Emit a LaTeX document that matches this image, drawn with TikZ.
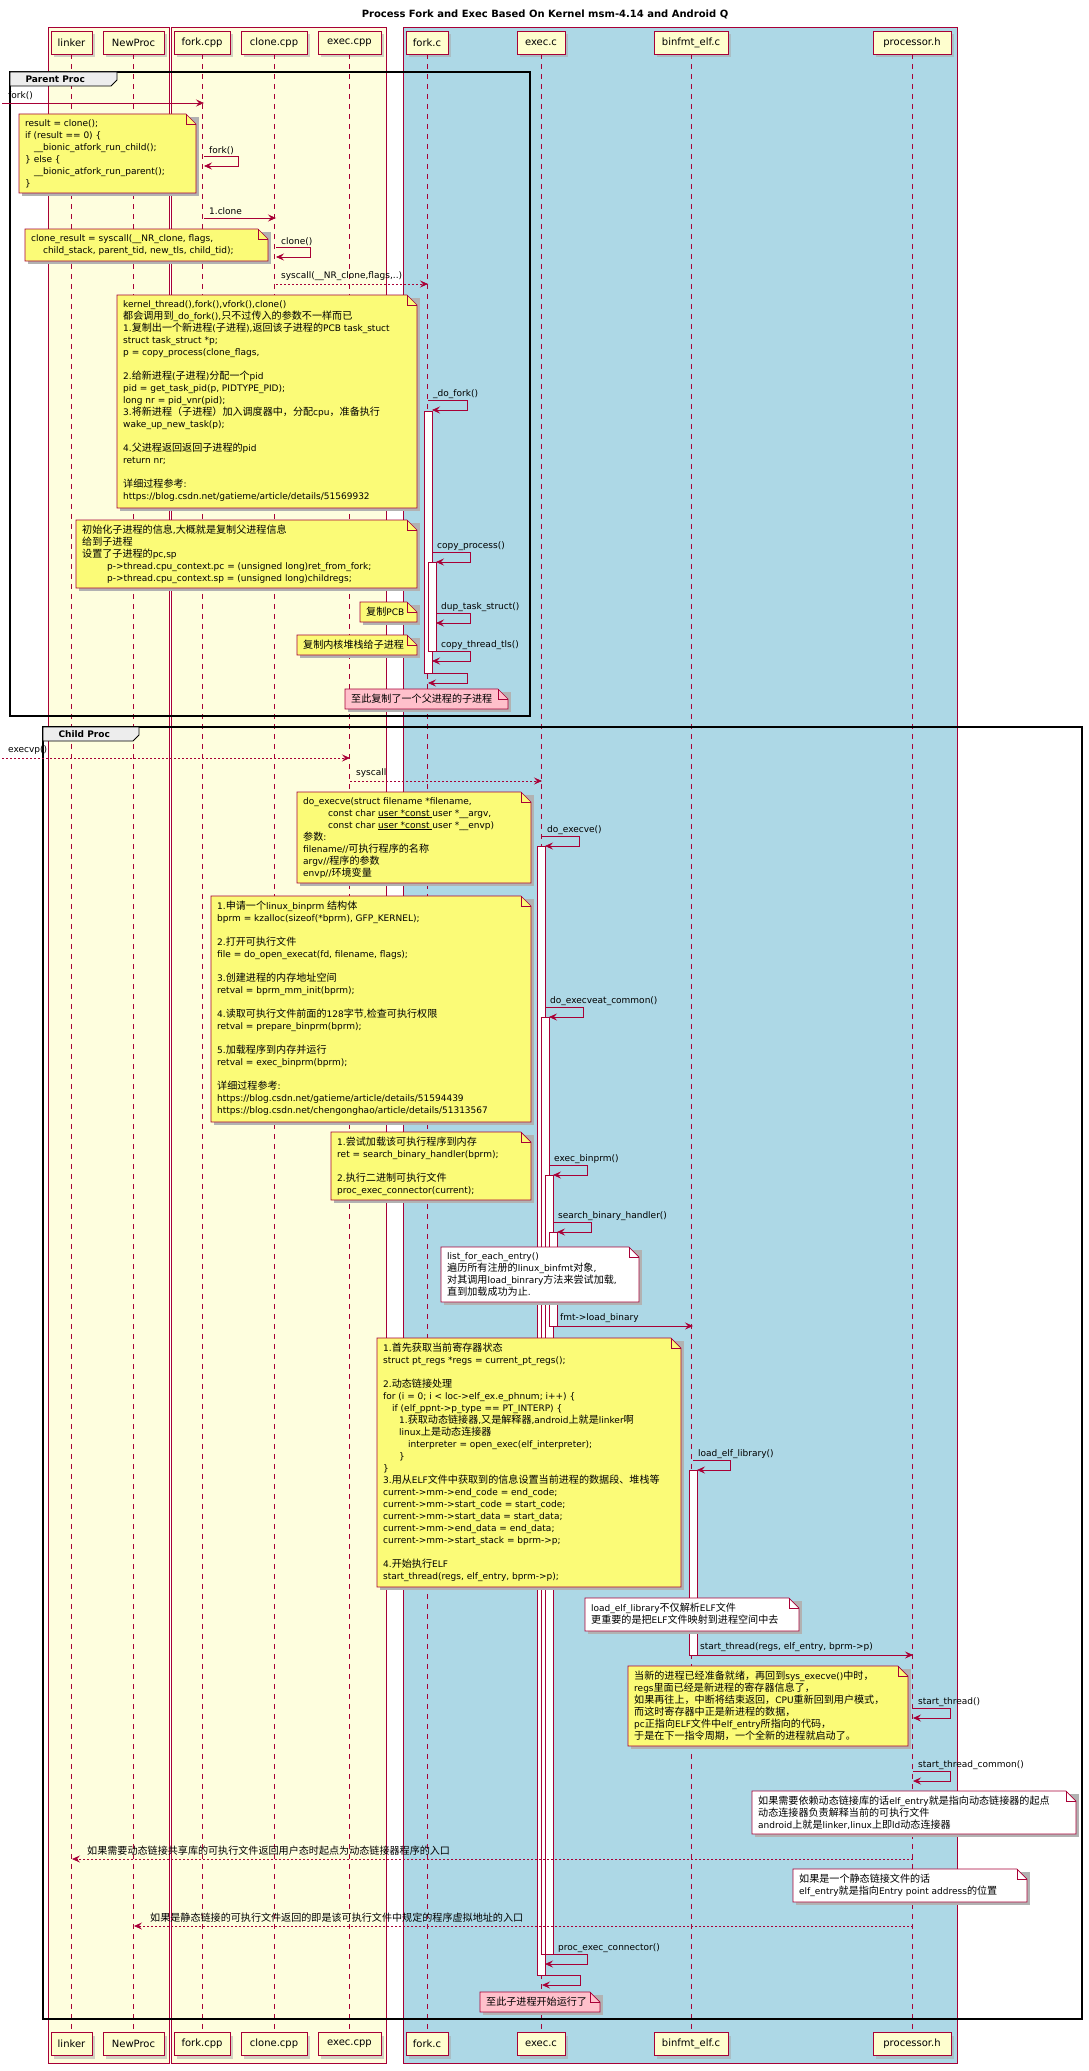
\documentclass[tikz,border=0pt]{standalone}
\usepackage{fontspec}
\setmainfont{DejaVu Sans}
\newfontfamily\cjkf{Noto Sans CJK SC}[Scale=1.12]
\usetikzlibrary{arrows.meta,shadows}
\XeTeXinterchartokenstate=1
\newXeTeXintercharclass\CJKcl
\makeatletter
\def\setcjkrange#1#2{\count@=#1\relax\loop\XeTeXcharclass\count@=\CJKcl\ifnum\count@<#2\advance\count@ by 1\repeat}
\setcjkrange{"4E00}{"9FFF}
\setcjkrange{"3000}{"303F}
\setcjkrange{"FF00}{"FFEF}
\makeatother
\XeTeXinterchartoks 0 \CJKcl = {\cjkf}
\XeTeXinterchartoks 4095 \CJKcl = {\cjkf}
\XeTeXinterchartoks \CJKcl 0 = {\rmfamily}
\XeTeXinterchartoks 4095 0 = {\rmfamily}
\definecolor{crim}{HTML}{A80036}
\definecolor{boxy}{HTML}{FEFEDE}
\definecolor{partf}{HTML}{FEFECE}
\definecolor{notey}{HTML}{FBFB77}
\definecolor{pinkn}{HTML}{FFC0CB}
\definecolor{lblue}{HTML}{ADD8E6}
\tikzset{
  part/.style={draw=crim,fill=partf,line width=0.9pt,minimum height=23pt,inner sep=0pt,
     font=\fontsize{10}{12}\selectfont,drop shadow={shadow xshift=3pt,shadow yshift=-3pt,fill=black!35}},
  life/.style={draw=crim,dash pattern=on 5pt off 5pt,line width=0.6pt},
  act/.style={draw=crim,fill=white,line width=0.7pt},
  msg/.style={draw=crim,line width=0.7pt,-{Stealth[length=8pt,width=7pt,inset=3pt]}},
  dmsg/.style={msg,dash pattern=on 2pt off 2pt},
  lbl/.style={font=\fontsize{9}{11}\selectfont,inner sep=0pt,anchor=south west},
  ntext/.style={font=\fontsize{9}{12}\selectfont,align=left,inner sep=0pt,anchor=north west},
  nbd/.style={draw=crim,line width=0.7pt},
  grpbox/.style={draw=crim,line width=0.8pt},
  frm/.style={draw=black,line width=1.4pt}
}
% name, x1, y1, x2, y2, fill, text
\newcommand\mynote[7]{%
  \fill[black!30] (#2+3,#3+3) rectangle (#4+3,#5+3);
  \draw[nbd,fill=#6] (#2,#3) -- (#4-10,#3) -- (#4,#3+10) -- (#4,#5) -- (#2,#5) -- cycle;
  \draw[nbd] (#4-10,#3) -- (#4-10,#3+10) -- (#4,#3+10);
  \node[ntext] (#1) at (#2+6,#3+5) {#7};}
% self message: x, y, right x, return x, label
\newcommand\selfmsg[5]{%
  \draw[msg] (#1,#2) -- (#3,#2) -- (#3,#2+10) -- (#4,#2+10);
  \node[lbl] at (#1+5,#2-1) {#5};}
\begin{document}
\begin{tikzpicture}[x=1pt,y=-1pt]
\useasboundingbox[fill=white] (0,0) rectangle (1089,2071);
\node[font=\bfseries\fontsize{10}{12}\selectfont] (title) at (545,14) {Process Fork and Exec Based On Kernel msm-4.14 and Android Q};
% group boxes
\draw[grpbox,fill=boxy] (48,27) rectangle (169,2063);
\draw[grpbox,fill=boxy] (171,27) rectangle (386,2063);
\draw[grpbox,fill=lblue] (403,27) rectangle (957,2063);
% participants
\foreach \n/\t/\x/\w in {linker/linker/71.5/41, newproc/NewProc/133.5/61, forkcpp/fork.cpp/202/56,
  clonecpp/clone.cpp/274/66, execcpp/exec.cpp/349.5/63, forkc/fork.c/427/42, execc/exec.c/541/48,
  binfmt/binfmt\_elf.c/691/74, proc/processor.h/912/78}{
  \node[part,minimum width=\w pt] (\n) at (\x,42.5) {\t};
  \node[part,minimum width=\w pt] (\n B) at (\x,2044) {\t};
  \draw[life] (\n.south) -- (\n B.north);
}
% Parent frame
\draw[frm] (10,72) rectangle (530,716);
\draw[black,line width=0.9pt,fill=black!7] (10,72) -- (117,72) -- (117,80) -- (111,86) -- (10,86) -- cycle;
\node[font=\bfseries\fontsize{9}{11}\selectfont,anchor=west] (pp) at (22,79) {Parent Proc};
% fork
\coordinate (lstart) at (2,103);
\draw[msg] (lstart) -- (204,103);
\node[lbl] at (8,100) {fork()};
\mynote{n1}{19}{114}{196}{193}{notey}{result = clone();\\if (result == 0) \{\\\quad\_\_bionic\_atfork\_run\_child();\\\} else \{\\\quad\_\_bionic\_atfork\_run\_parent();\\\}}
\selfmsg{204}{156}{238}{204}{fork()}
\draw[msg] (204,218) -- (276,218);
\node[lbl] at (209,215) {1.clone};
\mynote{n2}{25}{229}{268}{261}{notey}{clone\_result = syscall(\_\_NR\_clone, flags,\\\quad\ child\_stack, parent\_tid, new\_tls, child\_tid);}
\selfmsg{276}{247}{310}{276}{clone()}
\draw[dmsg] (276,284) -- (428,284);
\node[lbl] at (281,281) {syscall(\_\_NR\_clone,flags,..)};
\mynote{n3}{117}{295}{417}{508}{notey}{kernel\_thread(),fork(),vfork(),clone()\\都会调用到\_do\_fork(),只不过传入的参数不一样而已\\1.复制出一个新进程(子进程),返回该子进程的PCB task\_stuct\\struct task\_struct *p;\\p = copy\_process(clone\_flags,\\~\\2.给新进程(子进程)分配一个pid\\pid = get\_task\_pid(p, PIDTYPE\_PID);\\long nr = pid\_vnr(pid);\\3.将新进程（子进程）加入调度器中，分配cpu，准备执行\\wake\_up\_new\_task(p);\\~\\4.父进程返回返回子进程的pid\\return nr;\\~\\详细过程参考:\\https://blog.csdn.net/gatieme/article/details/51569932}
\draw[act] (424,411) rectangle (432,673);
\selfmsg{428}{400}{467}{432}{\_do\_fork()}
\mynote{n4}{76}{520}{417}{588}{notey}{初始化子进程的信息,大概就是复制父进程信息\\给到子进程\\设置了子进程的pc,sp\\\hspace*{25pt}p->thread.cpu\_context.pc = (unsigned long)ret\_from\_fork;\\\hspace*{25pt}p->thread.cpu\_context.sp = (unsigned long)childregs;}
\draw[act] (428,562) rectangle (436,651);
\selfmsg{432}{552}{470}{436}{copy\_process()}
\mynote{n5}{360}{602}{417}{622}{notey}{复制PCB}
\selfmsg{436}{613}{470}{436}{dup\_task\_struct()}
\mynote{n6}{297}{635}{417}{655}{notey}{复制内核堆栈给子进程}
\selfmsg{436}{651}{470}{432}{copy\_thread\_tls()}
\draw[msg] (432,673) -- (467,673) -- (467,683) -- (428,683);
\mynote{n7}{345}{689}{508}{709}{pinkn}{至此复制了一个父进程的子进程}
% Child frame
\draw[frm] (43,727) rectangle (1082,2019);
\draw[black,line width=0.9pt,fill=black!7] (43,727) -- (139,727) -- (139,735) -- (133,741) -- (43,741) -- cycle;
\node[font=\bfseries\fontsize{9}{11}\selectfont,anchor=west] (cp) at (55,734) {Child Proc};
\draw[dmsg] (2,758) -- (350,758);
\node[lbl] at (8,755) {execvp()};
\draw[dmsg] (350,781) -- (542,781);
\node[lbl] at (356,778) {syscall};
\mynote{n8}{297}{792}{531}{883}{notey}{do\_execve(struct filename *filename,\\\hspace*{25pt}const char \underline{user *const }user *\_\_argv,\\\hspace*{25pt}const char \underline{user *const }user *\_\_envp)\\参数:\\filename//可执行程序的名称\\argv//程序的参数\\envp//环境变量}
\draw[act] (537,846) rectangle (545,1975);
\selfmsg{542}{836}{579}{545}{do\_execve()}
\mynote{n9}{211}{896}{531}{1122}{notey}{1.申请一个linux\_binprm 结构体\\bprm = kzalloc(sizeof(*bprm), GFP\_KERNEL);\\~\\2.打开可执行文件\\file = do\_open\_execat(fd, filename, flags);\\~\\3.创建进程的内存地址空间\\retval = bprm\_mm\_init(bprm);\\~\\4.读取可执行文件前面的128字节,检查可执行权限\\retval = prepare\_binprm(bprm);\\~\\5.加载程序到内存并运行\\retval = exec\_binprm(bprm);\\~\\详细过程参考:\\https://blog.csdn.net/gatieme/article/details/51594439\\https://blog.csdn.net/chengonghao/article/details/51313567}
\draw[act] (541,1017) rectangle (549,1954);
\selfmsg{545}{1007}{583}{549}{do\_execveat\_common()}
\mynote{n10}{331}{1132}{531}{1200}{notey}{1.尝试加载该可执行程序到内存\\ret = search\_binary\_handler(bprm);\\~\\2.执行二进制可执行文件\\proc\_exec\_connector(current);}
\draw[act] (545,1175) rectangle (553,1954);
\selfmsg{549}{1165}{587}{553}{exec\_binprm()}
\draw[act] (549,1232) rectangle (557,1326);
\selfmsg{553}{1222}{591}{557}{search\_binary\_handler()}
\mynote{n11}{441}{1247}{639}{1302}{white}{list\_for\_each\_entry()\\遍历所有注册的linux\_binfmt对象,\\对其调用load\_binrary方法来尝试加载,\\直到加载成功为止.}
\draw[msg] (557,1326) -- (693,1326);
\node[lbl] at (560,1323) {fmt->load\_binary};
\mynote{n12}{377}{1338}{681}{1587}{notey}{1.首先获取当前寄存器状态\\struct pt\_regs *regs = current\_pt\_regs();\\~\\2.动态链接处理\\for (i = 0; i < loc->elf\_ex.e\_phnum; i++) \{\\\quad if (elf\_ppnt->p\_type == PT\_INTERP) \{\\\hspace*{16pt}1.获取动态链接器,又是解释器,android上就是linker啊\\\hspace*{16pt}linux上是动态连接器\\\hspace*{25pt}interpreter = open\_exec(elf\_interpreter);\\\hspace*{16pt}\}\\\}\\3.用从ELF文件中获取到的信息设置当前进程的数据段、堆栈等\\current->mm->end\_code = end\_code;\\current->mm->start\_code = start\_code;\\current->mm->start\_data = start\_data;\\current->mm->end\_data = end\_data;\\current->mm->start\_stack = bprm->p;\\~\\4.开始执行ELF\\start\_thread(regs, elf\_entry, bprm->p);}
\draw[act] (689,1470) rectangle (697,1655);
\selfmsg{693}{1460}{730}{697}{load\_elf\_library()}
\mynote{n13}{585}{1598}{799}{1631}{white}{load\_elf\_library不仅解析ELF文件\\更重要的是把ELF文件映射到进程空间中去}
\draw[msg] (697,1655) -- (913,1655);
\node[lbl] at (700,1652) {start\_thread(regs, elf\_entry, bprm->p)};
\mynote{n14}{628}{1666}{908}{1746}{notey}{当新的进程已经准备就绪，再回到sys\_execve()中时，\\regs里面已经是新进程的寄存器信息了，\\如果再往上，中断将结束返回，CPU重新回到用户模式，\\而这时寄存器中正是新进程的数据，\\pc正指向ELF文件中elf\_entry所指向的代码，\\于是在下一指令周期，一个全新的进程就启动了。}
\selfmsg{913}{1708}{950}{913}{start\_thread()}
\selfmsg{913}{1771}{950}{913}{start\_thread\_common()}
\mynote{n15}{752}{1791}{1076}{1834}{white}{如果需要依赖动态链接库的话elf\_entry就是指向动态链接器的起点\\动态连接器负责解释当前的可执行文件\\android上就是linker,linux上即ld动态连接器}
\draw[dmsg] (913,1859) -- (72,1859);
\node[lbl] at (87,1856) {如果需要动态链接共享库的可执行文件返回用户态时起点为动态链接器程序的入口};
\mynote{n16}{793}{1869}{1027}{1902}{white}{如果是一个静态链接文件的话\\elf\_entry就是指向Entry point address的位置}
\draw[dmsg] (913,1926) -- (134,1926);
\node[lbl] at (150,1923) {如果是静态链接的可执行文件返回的即是该可执行文件中规定的程序虚拟地址的入口};
\selfmsg{553}{1954}{587}{545}{proc\_exec\_connector()}
\draw[msg] (545,1975) -- (580,1975) -- (580,1985) -- (542,1985);
\mynote{n17}{480}{1992}{600}{2012}{pinkn}{至此子进程开始运行了}
\end{tikzpicture}
\end{document}
